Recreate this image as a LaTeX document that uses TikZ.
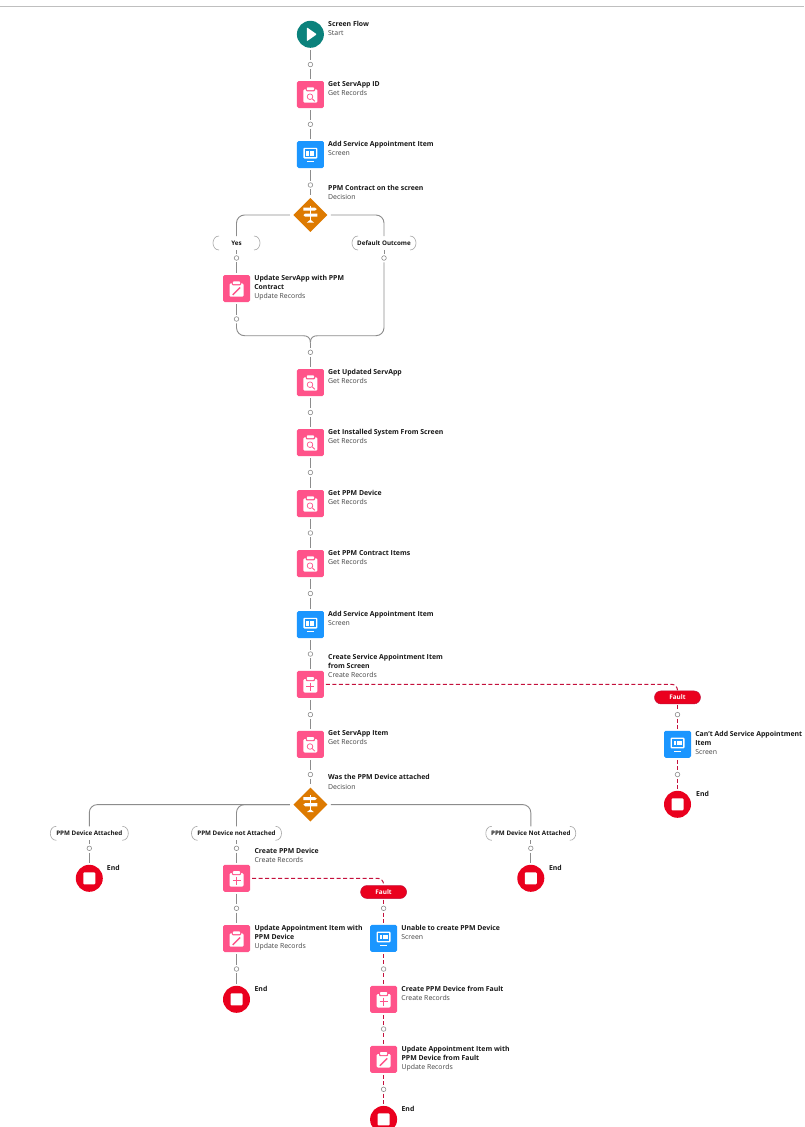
\documentclass[tikz,border=0pt]{standalone}
\usepackage{fontspec}
\setmainfont{Open Sans}
\usetikzlibrary{shapes.geometric,calc}
\definecolor{pinkbox}{HTML}{FF538A}
\definecolor{bluebox}{HTML}{1B96FF}
\definecolor{tealbox}{HTML}{0B827C}
\definecolor{orangebox}{HTML}{DD7A01}
\definecolor{redbox}{HTML}{EA001E}
\definecolor{faultline}{HTML}{C4103C}
\definecolor{linegray}{HTML}{8C8C8C}
\definecolor{titletext}{HTML}{181818}
\definecolor{subtext}{HTML}{444444}
\tikzset{
  box/.style={minimum size=27pt,inner sep=0pt,outer sep=2pt,rounded corners=1.6pt,fill=#1},
  round/.style={circle,minimum size=27pt,inner sep=0pt,outer sep=2pt,fill=#1},
  deci/.style={diamond,aspect=1,minimum size=36pt,inner sep=0pt,outer sep=2.5pt,fill=orangebox},
  dot/.style={circle,draw=linegray,fill=white,line width=.6pt,minimum size=4.6pt,inner sep=0pt,outer sep=2pt},
  conn/.style={draw=linegray,line width=.9pt},
  fconn/.style={color=faultline,draw=faultline,line width=1pt,dash pattern=on 4pt off 2.5pt},
  lbl/.style={anchor=north west,inner sep=0pt,align=left,text=titletext,font=\fontsize{6.9}{9}\selectfont},
  pilltext/.style={minimum height=14pt,inner sep=0pt,outer sep=0pt,text=titletext,font=\fontsize{6.25}{9}\selectfont\bfseries},
  faultpill/.style={rounded corners=6.5pt,fill=redbox,draw=faultline,line width=.5pt,minimum width=46pt,minimum height=13pt,inner sep=0pt,outer sep=1pt,text=white,font=\fontsize{6.4}{9}\selectfont\bfseries},
  pics/clipbase/.style={code={
    \fill[white,rounded corners=1.2pt] (-7,-5.2) rectangle (7,8.2);
    \fill[pinkbox,rounded corners=1pt] (-4.6,-8.2) rectangle (4.6,-3.2);
    \fill[white,rounded corners=.8pt] (-3.6,-7.2) rectangle (3.6,-4.3);
  }},
  pics/clipsearch/.style={code={
    \pic {clipbase};
    \draw[pinkbox,line width=.7pt] (-.4,2.2) circle[radius=2.8];
    \draw[pinkbox,line width=.8pt] (1.7,4.2) -- (4.4,6.8);
  }},
  pics/clipplus/.style={code={
    \pic {clipbase};
    \draw[pinkbox,line width=.6pt] (-4,2.2) -- (4,2.2) (0,-1.8) -- (0,6.2);
  }},
  pics/clipedit/.style={code={
    \pic {clipbase};
    \draw[pinkbox,line width=1.4pt] (-3.8,6.4) -- (3.6,-1);
  }},
  pics/screenicon/.style={code={
    \fill[white,rounded corners=1pt] (-7,-6.7) rectangle (7,4);
    \fill[bluebox] (-5.4,-5.2) rectangle (5.4,2.5);
    \fill[white] (-4,-3.8) rectangle (-1.4,1);
    \fill[white] (-.2,-3.8) rectangle (4,1);
    \fill[white] (-3.3,6.4) rectangle (3.3,7.9);
  }},
  pics/signicon/.style={code={
    \fill[white] (-7,-7.4) -- (4.5,-7.4) -- (6.4,-5.9) -- (4.5,-4.4) -- (-7,-4.4) -- cycle;
    \fill[white] (7,-1.5) -- (-5.2,-1.5) -- (-7,.1) -- (-5.2,1.7) -- (7,1.7) -- cycle;
    \fill[white] (-.5,-9.2) rectangle (.5,6);
    \fill[white] (-3.6,7.6) -- (0,4.6) -- (3.6,7.6) -- cycle;
  }},
  pics/playicon/.style={code={\fill[white,rounded corners=.8pt] (-3.6,-7) -- (6.4,0) -- (-3.6,7) -- cycle;}},
  pics/stopicon/.style={code={\fill[white,rounded corners=1pt] (-6,-6) rectangle (6,6);}},
}
\newcommand{\flowstep}[7]{% name, x, y, node style, icon, title lines, sub
  \node[#4] (#1) at (#2,#3) {};
  \pic at (#1) {#5};
  \node[lbl] (#1-t) at ($(#1)+(17.6,-13.6)$) {#6\\{\color{subtext}#7}};
}
\newcommand{\pill}[5]{% name, x, y, width, text
  \node[pilltext,minimum width=#4pt] (#1) at (#2,#3) {#5};
  \draw[draw=gray!70,line width=.6pt] ($(#1.north west)+(6,0)$) .. controls ($(#1.north west)+(-2,0)$) and ($(#1.south west)+(-2,0)$) .. ($(#1.south west)+(6,0)$);
  \draw[draw=gray!70,line width=.6pt] ($(#1.north east)+(-6,0)$) .. controls ($(#1.north east)+(2,0)$) and ($(#1.south east)+(2,0)$) .. ($(#1.south east)+(-6,0)$);
}
\begin{document}
\begin{tikzpicture}[x=1pt,y=-1pt]
\clip (0,0) rectangle (804,1127);
\fill[white] (0,0) rectangle (804,1127);
\coordinate (topl) at (0,6.5);
\coordinate (topr) at (804,6.5);
\draw[draw=gray!50,line width=.9pt] (topl) -- (topr);

\def\colm{310.4}
\def\coly{236.5}
\def\cola{89.3}
\def\colf{383.6}
\def\coln{530.8}
\def\colr{677.5}

% main column
\flowstep{start}{\colm}{34.3}{round=tealbox}{playicon}{\textbf{Screen Flow}}{Start}
\flowstep{getid}{\colm}{94.5}{box=pinkbox}{clipsearch}{\textbf{Get ServApp ID}}{Get Records}
\flowstep{addone}{\colm}{154.5}{box=bluebox}{screenicon}{\textbf{Add Service Appointment Item}}{Screen}
\node[deci] (dec1) at (\colm,215) {};
\pic at (dec1) {signicon};
\node[lbl] (dec1-t) at (328,185) {\textbf{PPM Contract on the screen}\\{\color{subtext}Decision}};
\flowstep{upd}{\coly}{288.5}{box=pinkbox}{clipedit}{\textbf{Update ServApp with PPM}\\\textbf{Contract}}{Update Records}
\flowstep{getupd}{\colm}{382.5}{box=pinkbox}{clipsearch}{\textbf{Get Updated ServApp}}{Get Records}
\flowstep{getinst}{\colm}{442.5}{box=pinkbox}{clipsearch}{\textbf{Get Installed System From Screen}}{Get Records}
\flowstep{getdev}{\colm}{503.5}{box=pinkbox}{clipsearch}{\textbf{Get PPM Device}}{Get Records}
\flowstep{getitems}{\colm}{563.5}{box=pinkbox}{clipsearch}{\textbf{Get PPM Contract Items}}{Get Records}
\flowstep{addtwo}{\colm}{624.5}{box=bluebox}{screenicon}{\textbf{Add Service Appointment Item}}{Screen}
\node[box=pinkbox] (crsai) at (\colm,684.3) {};
\pic at (crsai) {clipplus};
\node[lbl] (crsai-t) at (328,654) {\textbf{Create Service Appointment Item}\\\textbf{from Screen}\\{\color{subtext}Create Records}};
\flowstep{getitem}{\colm}{744.3}{box=pinkbox}{clipsearch}{\textbf{Get ServApp Item}}{Get Records}
\node[deci] (dec2) at (\colm,804.6) {};
\pic at (dec2) {signicon};
\node[lbl] (dec2-t) at (328,774.2) {\textbf{Was the PPM Device attached}\\[.6pt]{\color{subtext}Decision}};

% first fault branch
\node[faultpill] (faulta) at (\colr,697.4) {Fault};
\flowstep{cantadd}{\colr}{744.3}{box=bluebox}{screenicon}{\textbf{Can't Add Service Appointment}\\\textbf{Item}}{Screen}
\node[round=redbox] (enda) at (\colr,804.3) {};
\pic at (enda) {stopicon};
\node[lbl] (enda-t) at (696,791) {\textbf{End}};

% decision outcomes
\pill{yes}{\coly}{243}{47}{Yes}
\pill{defout}{384}{243}{64}{Default Outcome}
\pill{attached}{\cola}{833.3}{78}{PPM Device Attached}
\pill{notatt}{\coly}{833.3}{90}{PPM Device not Attached}
\pill{notattb}{\coln}{833.3}{90}{PPM Device Not Attached}

% lower left
\node[round=redbox] (endb) at (\cola,878.3) {};
\pic at (endb) {stopicon};
\node[lbl] (endb-t) at (106.7,865) {\textbf{End}};
\node[box=pinkbox] (crdev) at (\coly,878.3) {};
\pic at (crdev) {clipplus};
\node[lbl] (crdev-t) at (254.4,848) {\textbf{Create PPM Device}\\{\color{subtext}Create Records}};
\node[box=pinkbox] (updapp) at (\coly,938.5) {};
\pic at (updapp) {clipedit};
\node[lbl] (updapp-t) at (254.4,925) {\textbf{Update Appointment Item with}\\\textbf{PPM Device}\\{\color{subtext}Update Records}};
\node[round=redbox] (endc) at (\coly,999.3) {};
\pic at (endc) {stopicon};
\node[lbl] (endc-t) at (254.4,986) {\textbf{End}};
\node[round=redbox] (endd) at (\coln,878.3) {};
\pic at (endd) {stopicon};
\node[lbl] (endd-t) at (548.8,865) {\textbf{End}};

% second fault branch
\node[faultpill] (faultb) at (\colf,892) {Fault};
\flowstep{unable}{\colf}{938.3}{box=bluebox}{screenicon}{\textbf{Unable to create PPM Device}}{Screen}
\flowstep{crfault}{\colf}{999.3}{box=pinkbox}{clipplus}{\textbf{Create PPM Device from Fault}}{Create Records}
\node[box=pinkbox] (updfault) at (\colf,1059.3) {};
\pic at (updfault) {clipedit};
\node[lbl] (updfault-t) at (401.4,1045.8) {\textbf{Update Appointment Item with}\\\textbf{PPM Device from Fault}\\{\color{subtext}Update Records}};
\node[round=redbox] (ende) at (\colf,1119.4) {};
\pic at (ende) {stopicon};
\node[lbl] (ende-t) at (401.4,1106) {\textbf{End}};

% small circles
\foreach \n/\x/\y in {
  d1/\colm/64.5,d2/\colm/124.3,d3/\colm/185,dy/\coly/258,dd/384/258,du/\coly/319,dm/\colm/352.3,
  d4/\colm/412.5,d5/\colm/472.5,d6/\colm/533,d7/\colm/593.5,d8/\colm/654,d9/\colm/714.6,d10/\colm/774.5,
  fa/\colr/714.6,fb/\colr/774.5,
  dat/\cola/848.3,dna/\coly/848.3,dnb/\coln/848.3,dc/\coly/908.3,de/\coly/969,
  ff/\colf/908.3,fg/\colf/969,fh/\colf/1029,fi/\colf/1089.3}
  {\node[dot] (\n) at (\x,\y) {};}

% grey connectors
\foreach \p/\q in {start/d1,d1/getid,getid/d2,d2/addone,addone/d3,d3/dec1,
  yes/dy,dy/upd,upd/du,defout/dd,dm/getupd,getupd/d4,d4/getinst,getinst/d5,d5/getdev,
  getdev/d6,d6/getitems,getitems/d7,d7/addtwo,addtwo/d8,d8/crsai,crsai/d9,d9/getitem,getitem/d10,d10/dec2,
  attached/dat,dat/endb,notatt/dna,dna/crdev,crdev/dc,dc/updapp,updapp/de,de/endc,notattb/dnb,dnb/endd}
  {\draw[conn] (\p) -- (\q);}

\draw[conn,rounded corners=8pt] (dec1) -| (yes.north);
\draw[conn,rounded corners=8pt] (dec1) -| (defout.north);
\draw[conn,rounded corners=8pt] (dec2) -| (attached.north);
\draw[conn,rounded corners=8pt] (dec2) -| (notatt.north);
\draw[conn,rounded corners=8pt] (dec2) -| (notattb.north);

% merge
\coordinate (mergel) at (303,335.7);
\coordinate (merger) at (317.8,335.7);
\coordinate (mergec) at (\colm,342.5);
\draw[conn,rounded corners=8pt] (du) |- (mergel);
\draw[conn,rounded corners=8pt] (dd) |- (merger);
\draw[conn] (mergel) .. controls (307.5,335.7) and (\colm,337.5) .. (mergec);
\draw[conn] (merger) .. controls (313.3,335.7) and (\colm,337.5) .. (mergec);
\draw[conn] (mergec) -- (dm);

% fault connectors
\draw[fconn,rounded corners=6pt] (crsai) -| (faulta.north);
\draw[fconn,rounded corners=6pt] (crdev) -| (faultb.north);
\foreach \p/\q in {faulta/fa,fa/cantadd,cantadd/fb,fb/enda,faultb/ff,ff/unable,unable/fg,fg/crfault,crfault/fh,fh/updfault,updfault/fi,fi/ende}
  {\draw[fconn] (\p) -- (\q);}
\end{tikzpicture}
\end{document}
